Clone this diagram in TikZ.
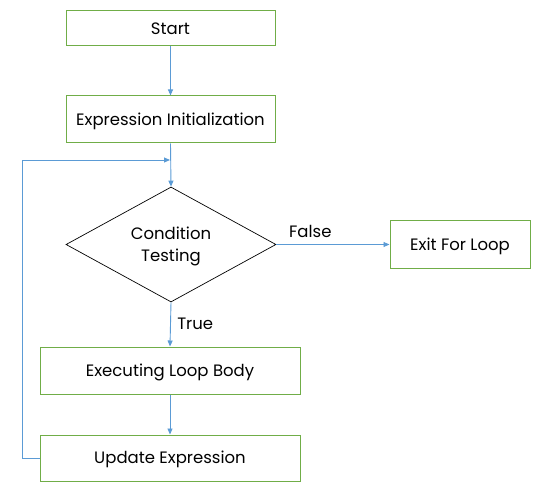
\documentclass[tikz,border=0pt]{standalone}
\usepackage{fontspec}
\setmainfont{Poppins}
\usetikzlibrary{shapes.geometric,arrows.meta}
\definecolor{boxgreen}{HTML}{70AD47}
\definecolor{lineblue}{HTML}{5B9BD5}
\begin{document}
\begin{tikzpicture}[x=1pt,y=-1pt,
  procbox/.style={draw=boxgreen,line width=1pt,minimum height=35pt,inner sep=0pt,text height=11.6pt,text depth=0pt,font=\fontsize{16.5}{22}\selectfont},
  flow/.style={draw=lineblue,line width=0.9pt,-{Triangle[length=6pt,width=5pt]}},
  lbl/.style={font=\fontsize{16.5}{22}\selectfont}]
\useasboundingbox (0,0) rectangle (536,492);
\node[procbox,minimum width=209pt] (start) at (170.5,28.5) {Start};
\node[procbox,minimum width=209pt,minimum height=47pt] (init) at (170.5,119.5) {Expression Initialization};
\node[draw=black,line width=0.7pt,diamond,aspect=1.83,minimum width=210pt,minimum height=115pt,inner sep=0pt,align=center,text height=33.6pt,text depth=0pt,font=\fontsize{16.5}{22}\selectfont] (cond) at (171,244.5) {Condition\\Testing};
\node[procbox,minimum width=140pt,minimum height=47pt] (exit) at (460,244.5) {Exit For Loop};
\node[procbox,minimum width=260pt,minimum height=47pt] (body) at (170,370.5) {Executing Loop Body};
\node[procbox,minimum width=260pt,minimum height=46pt] (upd) at (170,458) {Update Expression};
\coordinate (merge) at (170,160);
\coordinate (lb) at (22,458);
\coordinate (lt) at (22,160);
\draw[flow] (start) -- (init);
\draw[flow] (init.south) -- (cond.north);
\draw[flow] (cond.east) -- node[lbl,above=3pt,pos=0.3] {False} (exit.west);
\draw[flow] (cond.south) -- node[lbl,right=3pt,pos=0.49] {True} (body.north);
\draw[flow] (body) -- (upd);
\draw[flow] (upd.west) -- (lb) -- (lt) -- (merge);
\end{tikzpicture}
\end{document}
